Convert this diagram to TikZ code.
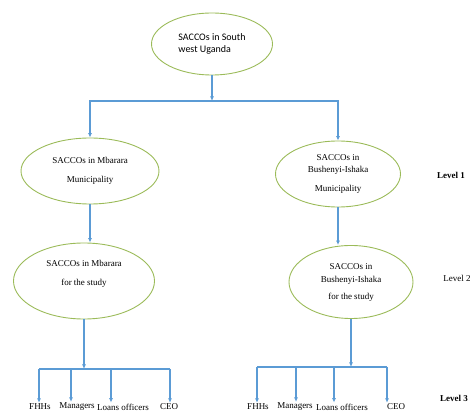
\documentclass[tikz,border=0pt]{standalone}
\usepackage{fontspec}
\setmainfont{Liberation Serif}
\newfontfamily\calibri{Carlito}
\usetikzlibrary{shapes.geometric,arrows.meta}
\definecolor{lineblue}{RGB}{91,155,213}
\definecolor{ovalgreen}{RGB}{155,187,89}

\begin{document}
\begin{tikzpicture}[x=1pt,y=-1pt,
    oval/.style={ellipse,draw=ovalgreen,line width=0.9pt,inner sep=0pt,align=center,font=\fontsize{9}{11}\selectfont},
    arr/.style={draw=lineblue,line width=1.2pt,-{Latex[length=4.5pt,width=4pt]}},
    link/.style={draw=lineblue,line width=1.2pt},
    lbl/.style={inner sep=1pt,font=\fontsize{9}{11}\selectfont}]
    \useasboundingbox (0,0) rectangle (474,419);
    \node[oval,minimum width=121pt,minimum height=62pt,align=left,font=\calibri\fontsize{10}{12}\selectfont] (top) at (212,44) {SACCOs in South\\west Uganda};
    \node[oval,minimum width=138pt,minimum height=66pt] (mba) at (90,171) {SACCOs in Mbarara\\[8pt]Municipality};
    \node[oval,minimum width=125pt,minimum height=66pt] (bus) at (338,174) {SACCOs in\\[1pt]Bushenyi-Ishaka\\[8pt]Municipality};
    \node[oval,minimum width=141pt,minimum height=76pt] (mbs) at (84,281) {SACCOs in Mbarara\\[8pt]for the study\\[5pt]~};
    \node[oval,minimum width=124pt,minimum height=73pt] (bss) at (351,282) {SACCOs in\\[2pt]Bushenyi-Ishaka\\[6pt]for the study};
    \node[lbl,font=\bfseries\fontsize{9}{11}\selectfont] (lv1) at (451,175) {Level 1};
    \node[lbl] (lv2) at (457,278) {Level 2};
    \node[lbl,font=\bfseries\fontsize{9}{11}\selectfont] (lv3) at (454,398) {Level 3};
    \foreach \n/\x/\t in {fa/40/FHHs, ma/77/Managers, la/123/Loans officers, ca/169/CEO,
                          fb/258/FHHs, mb/295/Managers, lb/342/Loans officers, cb/396/CEO}
      \node[lbl] (\n) at (\x,407) {\t};
    \coordinate (jtop) at (212,101);
    \coordinate (jmba) at (84,369);
    \coordinate (jbss) at (351,367);
    \draw[arr] (top) -- (jtop);
    \draw[arr] (jtop) -| (mba);
    \draw[arr] (jtop) -| (bus);
    \draw[arr] (mba.south) -- (mba.south |- mbs.north);
    \draw[arr] (bus.south) -- (bus.south |- bss.north);
    \draw[arr] (mbs) -- (jmba);
    \draw[arr] (bss) -- (jbss);
    \draw[link] (39,369) -- (170,369);
    \draw[link] (257,367) -- (387,367);
    \foreach \n/\x in {fa/39, ma/71, la/111, ca/170}
      \draw[arr] (\x,369) -- (\x,369 |- \n.north);
    \foreach \n/\x in {fb/257, mb/296, lb/334, cb/387}
      \draw[arr] (\x,367) -- (\x,367 |- \n.north);
\end{tikzpicture}
\end{document}
